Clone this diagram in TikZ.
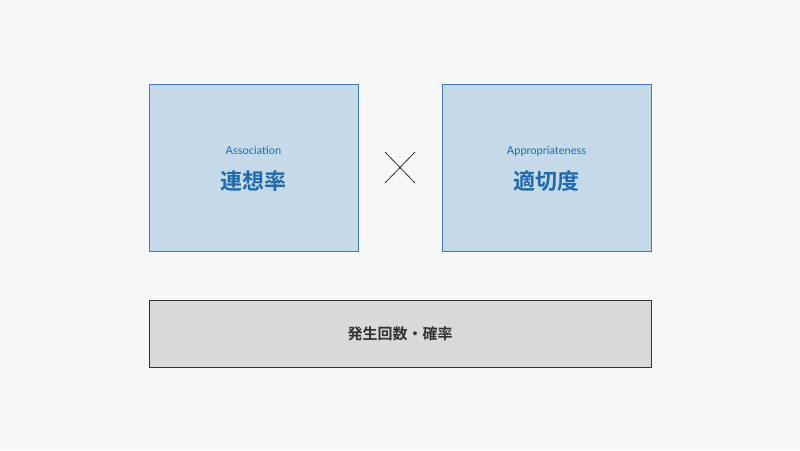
\documentclass[tikz,border=0pt]{standalone}
\usepackage{fontspec}
\setmainfont{Noto Sans CJK JP}
\newfontfamily\jpb{Noto Sans CJK JP}[BoldFont={* Bold}]
\newfontfamily\latn{Lato}
\definecolor{bg}{HTML}{F7F8F7}
\definecolor{bfill}{HTML}{C6D9E8}
\definecolor{bline}{HTML}{3A7DC0}
\definecolor{btext}{HTML}{1F6AAE}
\definecolor{gfill}{HTML}{D9D9D9}
\definecolor{gline}{HTML}{333333}
\begin{document}
\begin{tikzpicture}[x=1pt,y=-1pt,
  bluebox/.style={draw=bline,fill=bfill,line width=1pt},
  graybox/.style={draw=gline,fill=gfill,line width=0.8pt}]
\fill[bg] (0,0) rectangle (800,450);
\useasboundingbox (0,0) rectangle (800,450);
\draw[bluebox] (149,84) rectangle (358,251);
\draw[bluebox] (442,84) rectangle (651,251);
\draw[graybox] (149,300) rectangle (651,367);
\node[text=btext,font=\latn\fontsize{11}{13}\selectfont] (a1) at (253.5,151) {Association};
\node[text=btext,font=\jpb\bfseries\fontsize{22}{26}\selectfont] (a2) at (253.5,181) {連想率};
\node[text=btext,font=\latn\fontsize{11}{13}\selectfont] (b1) at (546.5,151) {Appropriateness};
\node[text=btext,font=\jpb\bfseries\fontsize{22}{26}\selectfont] (b2) at (546.5,181) {適切度};
\node[text=gline,font=\jpb\bfseries\fontsize{15}{18}\selectfont] (c) at (400,333.5) {発生回数・確率};
\coordinate (x1) at (385,152); \coordinate (x2) at (415,183);
\coordinate (x3) at (415,152); \coordinate (x4) at (385,183);
\draw[line width=0.8pt,gline] (x1) -- (x2) (x3) -- (x4);
\end{tikzpicture}
\end{document}
